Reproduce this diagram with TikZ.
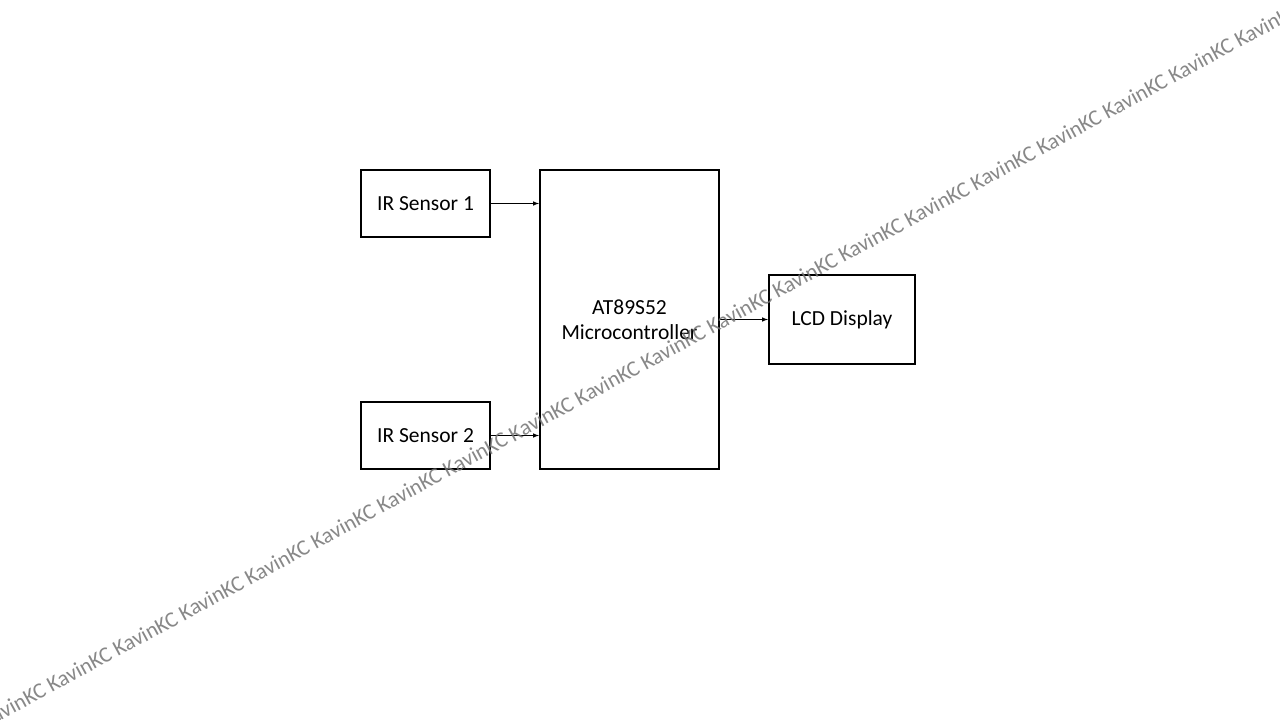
\documentclass[tikz,border=0pt]{standalone}
\usepackage{fontspec}
\setmainfont{Carlito}
\begin{document}
\begin{tikzpicture}[x=1pt,y=-1pt,
  blk/.style={draw,line width=2pt,inner sep=0pt,font=\fontsize{21.5}{25}\selectfont,align=center},
  arr/.style={-latex,line width=1pt}]
\useasboundingbox (0,0) rectangle (1280,720);
\node[blk,minimum width=129,minimum height=67] (s1) at (425.5,203.5) {IR Sensor 1};
\node[blk,minimum width=129,minimum height=67] (s2) at (425.5,435.5) {IR Sensor 2};
\node[blk,minimum width=179,minimum height=299] (mc) at (629.5,319.5) {AT89S52\\Microcontroller};
\node[blk,minimum width=146,minimum height=89] (lcd) at (842,319.5) {LCD Display};
\draw[arr] (s1.east) -- (s1.east -| mc.west);
\draw[arr] (s2.east) -- (s2.east -| mc.west);
\draw[arr] (mc.east) -- (lcd.west);
\begin{scope}
\clip (0,0) rectangle (1280,720);
\node[text=gray!90!black,opacity=0.85,rotate=28.5,font=\fontsize{22}{26}\selectfont] (wm) at (640,365)
 {KavinKC KavinKC KavinKC KavinKC KavinKC KavinKC KavinKC KavinKC KavinKC KavinKC KavinKC KavinKC KavinKC KavinKC KavinKC KavinKC KavinKC KavinKC KavinKC KavinKC KavinKC KavinKC KavinKC KavinKC};
\end{scope}
\end{tikzpicture}
\end{document}
